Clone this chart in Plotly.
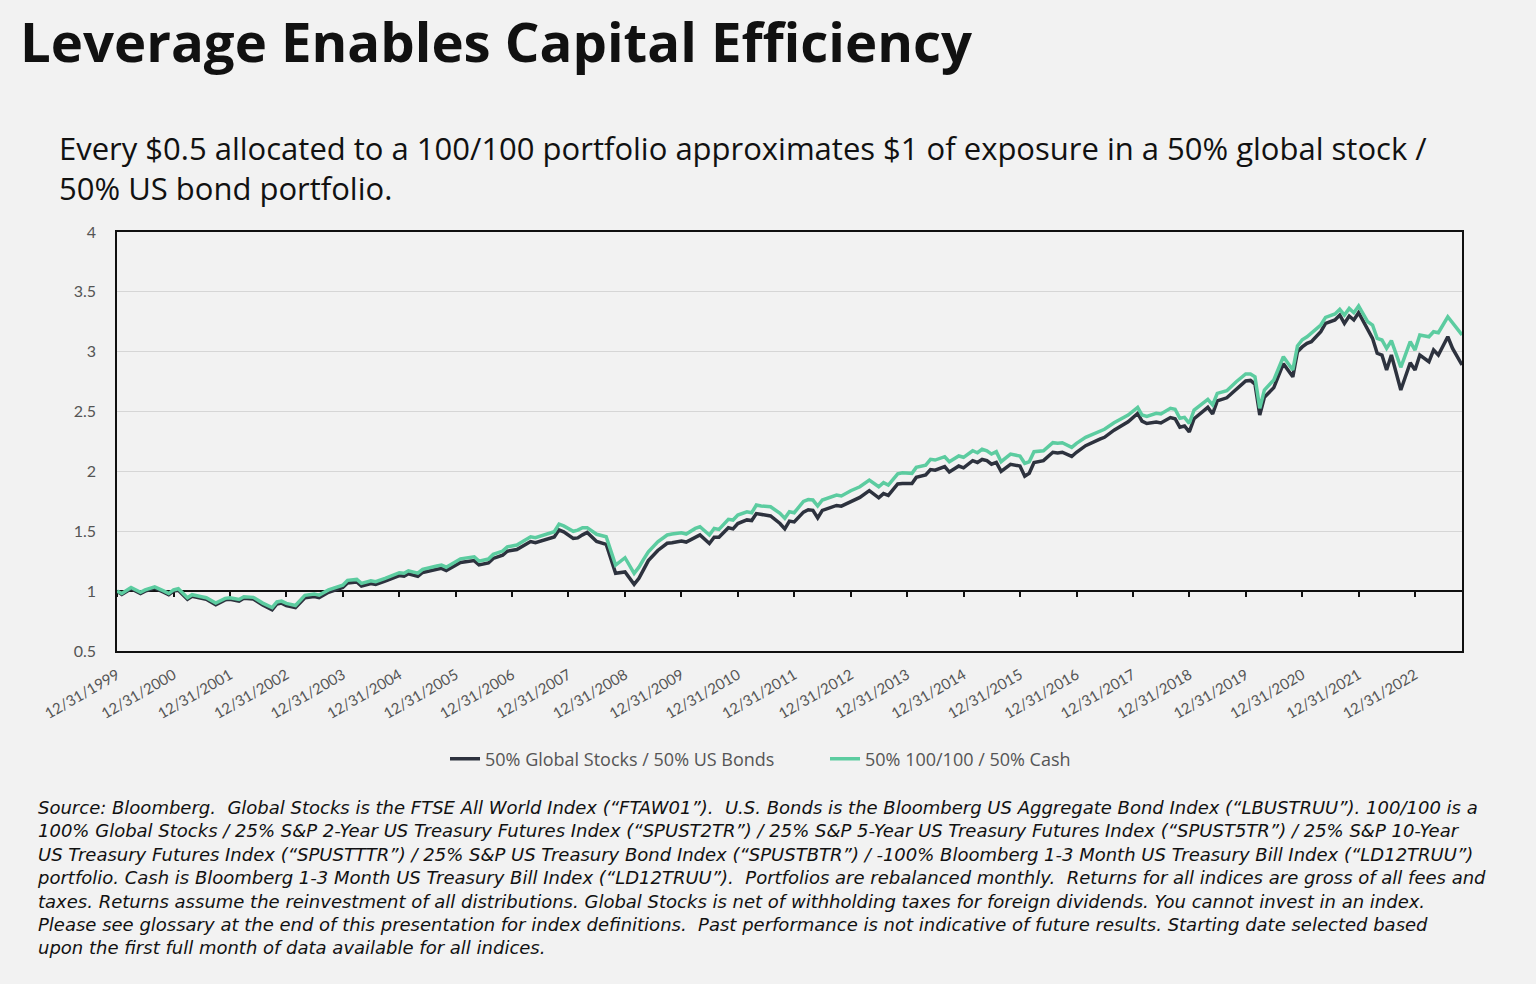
import plotly.graph_objects as go
import pandas as pd

# ---------------- data ----------------
months = [
    "1999-12", "2000-01", "2000-03", "2000-05", "2000-06", "2000-08", "2000-10", "2000-11", "2000-12",
    "2001-01", "2001-03", "2001-04", "2001-06", "2001-07", "2001-09", "2001-11", "2001-12",
    "2002-02", "2002-03", "2002-05", "2002-07", "2002-08", "2002-09", "2002-10", "2002-11", "2002-12",
    "2003-01", "2003-02", "2003-04", "2003-06", "2003-07", "2003-09", "2003-12",
    "2004-01", "2004-03", "2004-04", "2004-06", "2004-07", "2004-09", "2004-12",
    "2005-01", "2005-02", "2005-04", "2005-05", "2005-08", "2005-09", "2005-10", "2005-12",
    "2006-01", "2006-04", "2006-05", "2006-07", "2006-08", "2006-10", "2006-11",
    "2007-01", "2007-02", "2007-04", "2007-05", "2007-07", "2007-09", "2007-10", "2007-11",
    "2008-01", "2008-02", "2008-03", "2008-04", "2008-06", "2008-08", "2008-10", "2008-12",
    "2009-02", "2009-03", "2009-04", "2009-05", "2009-07", "2009-09", "2009-10", "2009-12",
    "2010-01", "2010-03", "2010-04", "2010-06", "2010-07", "2010-08", "2010-10", "2010-11", "2010-12",
    "2011-02", "2011-03", "2011-04", "2011-05", "2011-07", "2011-09", "2011-10", "2011-11", "2011-12",
    "2012-02", "2012-03", "2012-04", "2012-05", "2012-06", "2012-09", "2012-10", "2012-12",
    "2013-02", "2013-04", "2013-06", "2013-07", "2013-08", "2013-10", "2013-11",
    "2014-01", "2014-02", "2014-04", "2014-05", "2014-06", "2014-08", "2014-09", "2014-11", "2014-12",
    "2015-02", "2015-03", "2015-04", "2015-05", "2015-06", "2015-07", "2015-08", "2015-10", "2015-12",
    "2016-01", "2016-02", "2016-03", "2016-05", "2016-07", "2016-08", "2016-09", "2016-11", "2016-12",
    "2017-02", "2017-05", "2017-06", "2017-08", "2017-10", "2017-11",
    "2018-01", "2018-02", "2018-03", "2018-05", "2018-06", "2018-08", "2018-09", "2018-10", "2018-11", "2018-12",
    "2019-01", "2019-04", "2019-05", "2019-06", "2019-08", "2019-10", "2019-12",
    "2020-01", "2020-02", "2020-03", "2020-04", "2020-06", "2020-08", "2020-10", "2020-11", "2020-12",
    "2021-01", "2021-02", "2021-04", "2021-05", "2021-07", "2021-08", "2021-09", "2021-10", "2021-11", "2021-12",
    "2022-02", "2022-03", "2022-04", "2022-05", "2022-06", "2022-07", "2022-09", "2022-11", "2022-12",
    "2023-01", "2023-03", "2023-04", "2023-05", "2023-07", "2023-08", "2023-10",
]

levered_100_100 = [
    1.000, 0.980, 1.030, 0.990, 1.010, 1.035, 1.000, 0.980, 1.010,
    1.020, 0.945, 0.970, 0.953, 0.945, 0.900, 0.940, 0.945,
    0.930, 0.953, 0.948, 0.900, 0.884, 0.862, 0.910, 0.917, 0.898,
    0.890, 0.880, 0.965, 0.976, 0.967, 1.010, 1.050,
    1.090, 1.098, 1.065, 1.087, 1.079, 1.107, 1.154,
    1.149, 1.170, 1.150, 1.182, 1.210, 1.218, 1.200, 1.250,
    1.270, 1.287, 1.251, 1.268, 1.307, 1.335, 1.370,
    1.385, 1.408, 1.454, 1.446, 1.469, 1.496, 1.560, 1.545,
    1.500, 1.510, 1.530, 1.530, 1.475, 1.454, 1.218, 1.279,
    1.149, 1.200, 1.266, 1.329, 1.413, 1.469, 1.477, 1.488,
    1.477, 1.524, 1.538, 1.469, 1.524, 1.516, 1.600, 1.594, 1.636,
    1.663, 1.655, 1.719, 1.711, 1.705, 1.650, 1.608, 1.663, 1.655,
    1.750, 1.765, 1.761, 1.711, 1.761, 1.803, 1.795, 1.839,
    1.872, 1.928, 1.872, 1.906, 1.886, 1.980, 1.989,
    1.984, 2.034, 2.053, 2.101, 2.095, 2.123, 2.081, 2.129, 2.118,
    2.173, 2.156, 2.185, 2.173, 2.145, 2.165, 2.081, 2.145, 2.129,
    2.068, 2.081, 2.165, 2.173, 2.240, 2.235, 2.240, 2.201, 2.235,
    2.285, 2.340, 2.352, 2.407, 2.452, 2.471,
    2.535, 2.471, 2.460, 2.485, 2.480, 2.527, 2.519, 2.444, 2.452, 2.402,
    2.513, 2.602, 2.555, 2.652, 2.674, 2.749, 2.814,
    2.814, 2.790, 2.527, 2.680, 2.764, 2.958, 2.847, 3.048, 3.100,
    3.125, 3.153, 3.223, 3.287, 3.315, 3.354, 3.306, 3.362, 3.326, 3.382,
    3.250, 3.223, 3.112, 3.098, 3.028, 3.092, 2.870, 3.084, 3.014,
    3.140, 3.125, 3.167, 3.159, 3.292, 3.237, 3.140,
]

stocks_bonds_50_50 = [
    1.000, 0.972, 1.020, 0.980, 1.000, 1.025, 0.990, 0.970, 1.000,
    1.008, 0.933, 0.958, 0.940, 0.932, 0.886, 0.927, 0.932,
    0.917, 0.940, 0.934, 0.885, 0.868, 0.845, 0.893, 0.900, 0.880,
    0.872, 0.862, 0.945, 0.955, 0.946, 0.990, 1.030,
    1.068, 1.076, 1.042, 1.064, 1.056, 1.083, 1.130,
    1.124, 1.145, 1.124, 1.156, 1.183, 1.190, 1.172, 1.220,
    1.240, 1.255, 1.219, 1.235, 1.273, 1.300, 1.334,
    1.348, 1.370, 1.414, 1.405, 1.427, 1.452, 1.512, 1.495,
    1.441, 1.445, 1.470, 1.490, 1.415, 1.391, 1.149, 1.160,
    1.057, 1.107, 1.180, 1.255, 1.340, 1.400, 1.405, 1.419,
    1.410, 1.455, 1.470, 1.398, 1.450, 1.450, 1.530, 1.520, 1.565,
    1.595, 1.590, 1.648, 1.640, 1.628, 1.565, 1.520, 1.585, 1.578,
    1.660, 1.680, 1.675, 1.612, 1.675, 1.716, 1.710, 1.750,
    1.783, 1.840, 1.780, 1.815, 1.800, 1.895, 1.900,
    1.900, 1.950, 1.970, 2.015, 2.010, 2.040, 1.995, 2.045, 2.030,
    2.090, 2.075, 2.100, 2.090, 2.060, 2.075, 2.000, 2.060, 2.045,
    1.960, 1.985, 2.075, 2.090, 2.160, 2.155, 2.160, 2.125, 2.160,
    2.215, 2.270, 2.285, 2.345, 2.395, 2.415,
    2.485, 2.420, 2.400, 2.412, 2.405, 2.450, 2.440, 2.370, 2.380, 2.330,
    2.440, 2.535, 2.480, 2.590, 2.615, 2.685, 2.755,
    2.760, 2.730, 2.471, 2.620, 2.700, 2.900, 2.790, 3.000, 3.040,
    3.070, 3.084, 3.167, 3.237, 3.265, 3.306, 3.237, 3.298, 3.265, 3.326,
    3.187, 3.112, 2.987, 2.972, 2.847, 2.972, 2.680, 2.908, 2.847,
    2.972, 2.916, 3.014, 2.972, 3.125, 3.028, 2.889,
]

tick_dates = [f"{y}-12-31" for y in range(1999, 2023)]
tick_labels = [f"12/31/{y}" for y in range(1999, 2023)]
y_ticks = [0.5, 1, 1.5, 2, 2.5, 3, 3.5, 4]
y_tick_labels = ["0.5", "1", "1.5", "2", "2.5", "3", "3.5", "4"]

series_names = ["50% Global Stocks / 50% US Bonds", "50% 100/100 / 50% Cash"]

title_text = "Leverage Enables Capital Efficiency"
subtitle_lines = [
    "Every $0.5 allocated to a 100/100 portfolio approximates $1 of exposure in a 50% global stock /",
    "50% US bond portfolio.",
]
footnote_lines = [
    "Source: Bloomberg.  Global Stocks is the FTSE All World Index (\u201cFTAW01\u201d).  U.S. Bonds is the Bloomberg US Aggregate Bond Index (\u201cLBUSTRUU\u201d). 100/100 is a",
    "100% Global Stocks / 25% S&P 2-Year US Treasury Futures Index (\u201cSPUST2TR\u201d) / 25% S&P 5-Year US Treasury Futures Index (\u201cSPUST5TR\u201d) / 25% S&P 10-Year",
    "US Treasury Futures Index (\u201cSPUSTTTR\u201d) / 25% S&P US Treasury Bond Index (\u201cSPUSTBTR\u201d) / -100% Bloomberg 1-3 Month US Treasury Bill Index (\u201cLD12TRUU\u201d)",
    "portfolio. Cash is Bloomberg 1-3 Month US Treasury Bill Index (\u201cLD12TRUU\u201d).  Portfolios are rebalanced monthly.  Returns for all indices are gross of all fees and",
    "taxes. Returns assume the reinvestment of all distributions. Global Stocks is net of withholding taxes for foreign dividends. You cannot invest in an index.",
    "Please see glossary at the end of this presentation for index definitions.  Past performance is not indicative of future results. Starting date selected based",
    "upon the first full month of data available for all indices.",
]

# ---------------- figure ----------------
W, H = 1536, 984
L, R, T, B = 117, 1462, 232, 651   # plot area in pixels
BG = "#f2f2f2"
DARK = "#2d323e"
GREEN = "#5ccca0"
FONT = "Lato"
WIDE = "Open Sans"
NOTE = "DejaVu Sans"

dates = pd.to_datetime(months) + pd.offsets.MonthEnd(0)
x_range = ["1999-12-31", "2023-10-31"]


def px_x(px):
    return (px - L) / (R - L)


def px_y(py):
    return (B - py) / (B - T)


fig = go.Figure()
fig.add_trace(go.Scatter(
    x=dates, y=stocks_bonds_50_50, name=series_names[0], mode="lines",
    line=dict(color=DARK, width=3.5), xaxis="x", yaxis="y",
))
fig.add_trace(go.Scatter(
    x=dates, y=levered_100_100, name=series_names[1], mode="lines",
    line=dict(color=GREEN, width=3.5), xaxis="x2", yaxis="y",
))

fig.update_layout(
    width=W, height=H,
    paper_bgcolor=BG, plot_bgcolor=BG,
    margin=dict(l=L, r=W - R, t=T, b=H - B, pad=0),
    font=dict(family=FONT, color="#555555"),
    showlegend=True,
    legend=dict(
        orientation="h", x=px_x(445), xanchor="left", y=px_y(759), yanchor="middle",
        font=dict(size=18, color="#555555", family=WIDE), bgcolor="rgba(0,0,0,0)",
        itemwidth=30, entrywidth=335, entrywidthmode="pixels",
    ),
    title=dict(
        text="<b>" + title_text + "</b>", xref="container", yref="container",
        x=20 / W, xanchor="left", y=1 - 43 / H, yanchor="middle",
        font=dict(size=54.5, color="#111111", family=WIDE),
    ),
    xaxis=dict(
        type="date", range=x_range, tickmode="array", tickvals=tick_dates, ticktext=tick_labels,
        tickangle=-30, tickfont=dict(size=15, color="#555555", family=FONT),
        showgrid=False, zeroline=False, showline=True, mirror=True,
        linecolor="#111111", linewidth=1.5,
        ticks="outside", ticklen=8, tickcolor="rgba(0,0,0,0)",
    ),
    xaxis2=dict(
        type="date", range=x_range, overlaying="x", anchor="free",
        position=(1 - 0.5) / (4 - 0.5),
        tickmode="array", tickvals=tick_dates, showticklabels=False,
        ticks="outside", ticklen=5, tickwidth=1.5, tickcolor="#111111",
        showgrid=False, zeroline=False, showline=True, linecolor="#111111", linewidth=1.5,
        layer="below traces",
    ),
    yaxis=dict(
        range=[0.5, 4], tickmode="array", tickvals=y_ticks, ticktext=y_tick_labels,
        tickfont=dict(size=16, color="#555555", family=FONT),
        showgrid=True, gridcolor="#d6d6d6", gridwidth=1, zeroline=False,
        showline=True, mirror=True, linecolor="#111111", linewidth=1.5,
        ticks="outside", ticklen=16, tickcolor="rgba(0,0,0,0)",
    ),
)

annotations = [
    dict(
        text="<br>".join(subtitle_lines), xref="paper", yref="paper",
        x=px_x(57), y=px_y(125), xanchor="left", yanchor="top", align="left",
        showarrow=False, font=dict(size=31, color="#111111", family=WIDE),
    ),
    dict(
        text="<br>".join(footnote_lines), xref="paper", yref="paper",
        x=px_x(35), y=px_y(795), xanchor="left", yanchor="top", align="left",
        showarrow=False, font=dict(size=18, color="#111111", family=NOTE, style="italic"),
    ),
]
fig.update_layout(annotations=annotations)

fig.write_html("out.html")
